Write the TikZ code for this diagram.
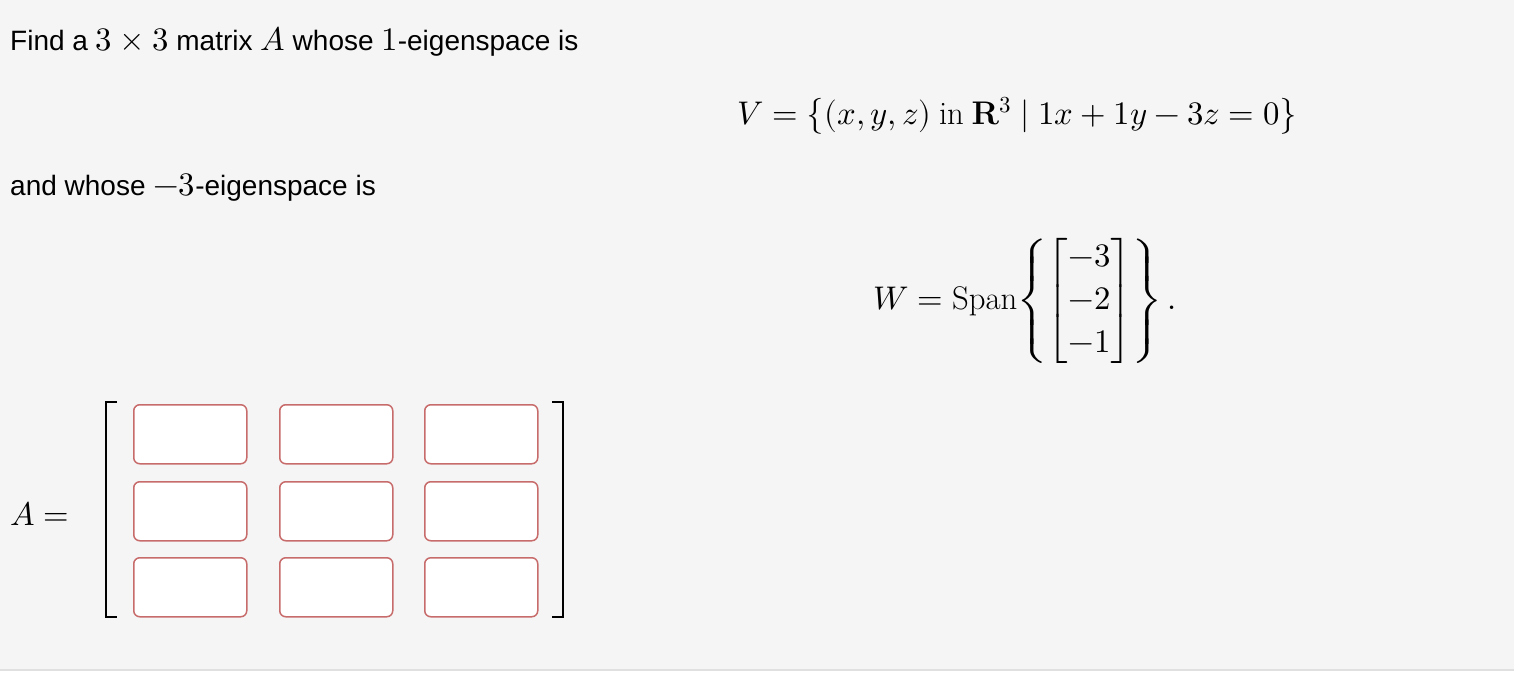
\documentclass[tikz,border=0pt]{standalone}
\usepackage{amsmath,amssymb}
\usepackage{fontspec}
\setmainfont{Liberation Sans}
\usepackage{unicode-math}
\setmathfont{Latin Modern Math}[Scale=1.17]
\setmathrm{Latin Modern Roman}[Scale=1.17]
\tikzset{
  txt/.style={anchor=base west,inner sep=0,font=\fontsize{28}{32}\selectfont},
  ansbox/.style={draw=red!45!gray!80,line width=1.5pt,fill=white,rounded corners=6pt,minimum width=113pt,minimum height=59pt,inner sep=0,anchor=north west},
  brk/.style={line width=2pt}
}
\begin{document}
\begin{tikzpicture}[x=1pt,y=-1pt]
\useasboundingbox (0,0) rectangle (1514,678);
\fill[black!4] (0,0) rectangle (1514,670);
\draw[black!12,line width=1.5pt] (0,670) -- (1514,670);
\node[txt] (l1) at (10,50) {Find a $3\times3$ matrix $A$ whose $1$-eigenspace is};
\node[txt] (v) at (737,124) {$V=\bigl\{(x,y,z)\mathrm{\ in\ }\mathbf{R}^3\mid 1x+1y-3z=0\bigr\}$};
\node[txt] (l2) at (10,195) {and whose $-3$-eigenspace is};
\node[txt] (w) at (873,309) {\renewcommand{\arraystretch}{1.35}$W=\mathrm{Span}\!\left\{\begin{bmatrix}-3\\-2\\-1\end{bmatrix}\right\}.$};
\node[txt] (a) at (10,525) {$A=$};
\foreach \c/\x in {1/133,2/279,3/424}{
  \foreach \r/\y in {1/404,2/481,3/557}{
    \node[ansbox] (b\r\c) at (\x,\y) {};
  }
}
\draw[brk] (117,402) -- (106,402) -- (106,617) -- (117,617);
\draw[brk] (552,402) -- (563,402) -- (563,617) -- (552,617);
\end{tikzpicture}
\end{document}
